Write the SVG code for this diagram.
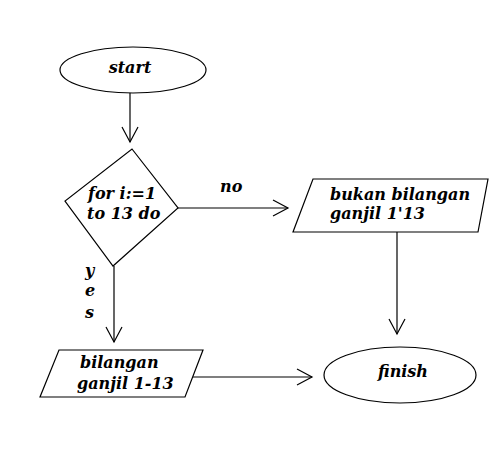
<svg xmlns="http://www.w3.org/2000/svg" width="500" height="450" viewBox="0 0 500 450">
<defs>
<marker id="arr" viewBox="0 0 20 20" refX="16" refY="10" markerWidth="20" markerHeight="20" markerUnits="userSpaceOnUse" orient="auto">
<path d="M1,2 L16,10 L1,18" fill="none" stroke="#000" stroke-width="1.2"/>
</marker>
<style>
.s{fill:#fff;stroke:#000;stroke-width:1.2}
.c{fill:none;stroke:#000;stroke-width:1.2;marker-end:url(#arr)}
.t{font-family:"DejaVu Serif","Liberation Serif",serif;font-style:italic;font-weight:bold;font-size:16px;fill:#000}
</style>
</defs>
<rect width="500" height="450" fill="#fff"/>
<g id="connectors">
<path class="c" d="M130,92 L130,142"/>
<path class="c" d="M178,208 L288,208"/>
<path class="c" d="M114,266 L114,342"/>
<path class="c" d="M397,232 L397,334"/>
<path class="c" d="M193,377 L312,377"/>
<text class="t" x="220" y="192">no</text>
<text class="t" x="85" y="276">y</text>
<text class="t" x="85" y="296">e</text>
<text class="t" x="85" y="318">s</text>
</g>
<g id="start">
<ellipse class="s" cx="133" cy="70" rx="73" ry="23"/>
<text class="t" x="130" y="73" text-anchor="middle">start</text>
</g>
<g id="decision">
<polygon class="s" points="132,149 178,208 113,266 65,201"/>
<text class="t" x="88" y="199">for i:=1</text>
<text class="t" x="87" y="219">to 13 do</text>
</g>
<g id="bukan">
<polygon class="s" points="313,179 488,179 478,232 293,232"/>
<text class="t" x="330" y="200">bukan bilangan</text>
<text class="t" x="330" y="219">ganjil 1'13</text>
</g>
<g id="bilangan">
<polygon class="s" points="59,350 203,350 185,397 40,397"/>
<text class="t" x="80" y="368">bilangan</text>
<text class="t" x="77" y="389">ganjil 1-13</text>
</g>
<g id="finish">
<ellipse class="s" cx="400" cy="375" rx="76" ry="28"/>
<text class="t" x="403" y="377" text-anchor="middle">finish</text>
</g>
</svg>
